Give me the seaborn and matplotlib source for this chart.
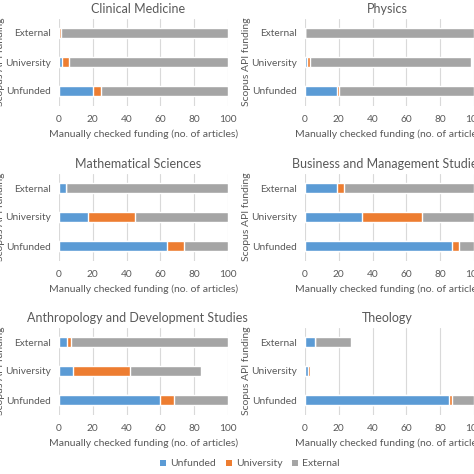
import matplotlib
matplotlib.use("Agg")
import matplotlib.pyplot as plt
import seaborn as sns
import pandas as pd
import numpy as np
from matplotlib.patches import Patch

sns.set_theme(style="white")
plt.rcParams['font.family'] = ['Lato', 'DejaVu Sans']

categories = ["External", "University", "Unfunded"]
series = ["Unfunded", "University", "External"]
colors = {"Unfunded": "#5B9BD5", "University": "#ED7D31", "External": "#A5A5A5"}

titles = ["Clinical Medicine", "Physics", "Mathematical Sciences",
          "Business and Management Studies", "Anthropology and Development Studies", "Theology"]

# values per panel: rows = Scopus category (External, University, Unfunded)
clin_unfunded = [0, 2, 20]
clin_university = [1, 4, 5]
clin_external = [99, 94, 75]

phys_unfunded = [0, 1, 19]
phys_university = [0, 2, 1]
phys_external = [100, 95, 80]

math_unfunded = [4, 17, 64]
math_university = [0, 28, 10]
math_external = [96, 55, 26]

bus_unfunded = [19, 34, 87]
bus_university = [4, 35, 4]
bus_external = [77, 31, 9]

anth_unfunded = [5, 8, 60]
anth_university = [2, 34, 8]
anth_external = [93, 42, 32]

theo_unfunded = [6, 2, 85]
theo_university = [0, 1, 2]
theo_external = [21, 0, 13]

panels = [
    (clin_unfunded, clin_university, clin_external),
    (phys_unfunded, phys_university, phys_external),
    (math_unfunded, math_university, math_external),
    (bus_unfunded, bus_university, bus_external),
    (anth_unfunded, anth_university, anth_external),
    (theo_unfunded, theo_university, theo_external),
]

W = H = 474
fig = plt.figure(figsize=(4.74, 4.74), dpi=100)
fig.patch.set_facecolor("white")

col_x = [59, 305]
row_top = [18.5, 173.5, 327.5]
ax_w = 169
ax_h = 87
text_c = "#595959"

for i, (title, vals) in enumerate(zip(titles, panels)):
    r, c = divmod(i, 2)
    x0 = col_x[c]
    y0 = row_top[r]
    ax = fig.add_axes([x0 / W, 1 - (y0 + ax_h) / H, ax_w / W, ax_h / H])
    u, un, e = vals
    df = pd.DataFrame({"cat": categories, "Unfunded": u, "University": un, "External": e})
    df["c1"] = df["Unfunded"]
    df["c2"] = df["Unfunded"] + df["University"]
    df["c3"] = df["c2"] + df["External"]
    for col, s in [("c3", "External"), ("c2", "University"), ("c1", "Unfunded")]:
        sns.barplot(data=df, x=col, y="cat", order=categories, color=colors[s],
                    width=0.37, ax=ax, saturation=1)
    ax.set_xlim(0, 100)
    ax.set_ylim(2.5, -0.5)
    ax.set_xticks([0, 20, 40, 60, 80, 100])
    ax.xaxis.grid(True, color="#D9D9D9", linewidth=0.8)
    ax.set_axisbelow(True)
    for sp in ax.spines.values():
        sp.set_visible(False)
    ax.tick_params(axis="both", length=0, labelsize=7.3, colors=text_c)
    ax.tick_params(axis="y", pad=6)
    ax.tick_params(axis="x", pad=7)
    ax.set_xlabel("Manually checked funding (no. of articles)", fontsize=7.5, color=text_c, labelpad=4)
    ax.set_ylabel("Scopus API funding", fontsize=7.5, color=text_c)
    ax.yaxis.set_label_coords(-0.318, 0.5)
    tx = 0.465 if c == 0 else 0.49
    ax.set_title(title, fontsize=9, color=text_c, x=tx, pad=4)

leg_handles = [Patch(facecolor=colors[s], edgecolor="none", label=s) for s in series]
fig.legend(handles=leg_handles, loc="center", bbox_to_anchor=(250 / W, 1 - 464 / H), ncol=3,
           frameon=False, fontsize=7.5, handlelength=0.6, handleheight=0.6, handletextpad=0.4,
           columnspacing=0.9, labelcolor=text_c)

fig.savefig("out.png", dpi=100)
